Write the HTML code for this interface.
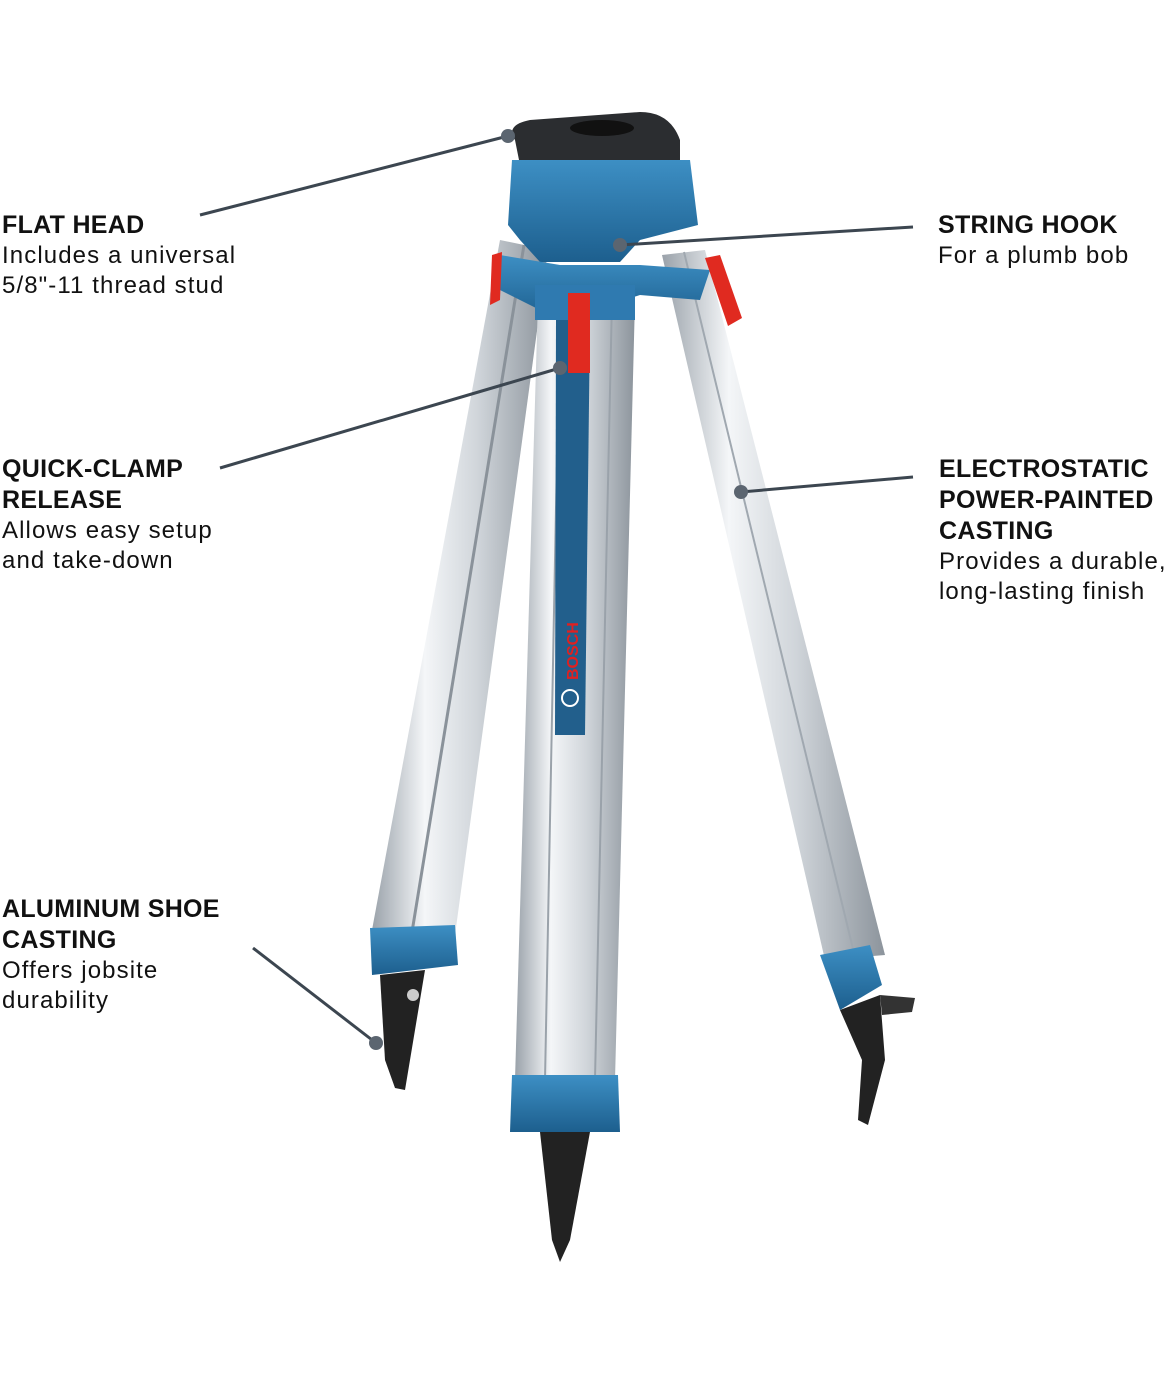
<!DOCTYPE html>
<html><head><meta charset="utf-8"><style>
html,body{margin:0;padding:0;background:#fff;}
body{width:1170px;height:1383px;position:relative;overflow:hidden;font-family:"Liberation Sans",sans-serif;color:#111;}
.t{position:absolute;font-size:24px;line-height:30px;letter-spacing:1.1px;}
.t b{font-weight:900;font-size:25px;letter-spacing:0.3px;}
svg{position:absolute;left:0;top:0;}
</style></head><body>
<svg width="1170" height="1383" viewBox="0 0 1170 1383">
<defs>
<linearGradient id="al" x1="0" x2="1" y1="0" y2="0">
<stop offset="0" stop-color="#9aa2aa"/><stop offset="0.3" stop-color="#f4f6f8"/><stop offset="0.6" stop-color="#d0d5da"/><stop offset="1" stop-color="#8c949c"/></linearGradient>
<linearGradient id="bl" x1="0" x2="0" y1="0" y2="1">
<stop offset="0" stop-color="#3d8fc4"/><stop offset="1" stop-color="#1d5f8e"/></linearGradient>
</defs>
<polygon points="500,240 548,250 455,935 372,930" fill="url(#al)"/>
<line x1="524" y1="245" x2="412" y2="932" stroke="#8a929a" stroke-width="3"/>
<polygon points="662,255 705,250 885,955 825,960" fill="url(#al)"/>
<line x1="684" y1="252" x2="855" y2="957" stroke="#a0a8b0" stroke-width="2"/>
<polygon points="538,300 635,300 615,1080 515,1080" fill="url(#al)"/>
<line x1="560" y1="300" x2="545" y2="1080" stroke="#9aa2aa" stroke-width="2"/>
<line x1="612" y1="300" x2="595" y2="1080" stroke="#9aa2aa" stroke-width="2"/>
<polygon points="556,320 590,320 585,735 555,735" fill="#225f8c"/>
<text x="0" y="0" transform="translate(578,680) rotate(-90)" font-family="Liberation Sans" font-weight="bold" font-size="16" fill="#e02020">BOSCH</text>
<circle cx="570" cy="698" r="8" fill="none" stroke="#fff" stroke-width="2"/>
<path d="M515,140 Q505,125 530,120 L640,112 Q670,112 680,140 L680,160 L520,165 Z" fill="#2b2d30"/>
<ellipse cx="602" cy="128" rx="32" ry="8" fill="#111"/>
<path d="M512,160 L690,160 L698,225 L640,240 L620,262 L540,262 L520,240 L508,225 Z" fill="url(#bl)"/>
<path d="M500,255 L560,265 L640,265 L710,270 L700,300 L640,295 L560,320 L520,300 L500,290 Z" fill="url(#bl)"/>
<rect x="535" y="285" width="100" height="35" fill="#2f7ab0"/>
<rect x="568" y="293" width="22" height="80" fill="#e02a20"/>
<polygon points="705,258 720,255 742,318 728,326" fill="#e02a20"/>
<polygon points="492,255 502,252 500,300 490,305" fill="#e02a20"/>
<polygon points="370,928 455,925 458,965 372,975" fill="url(#bl)"/>
<polygon points="380,975 425,970 405,1090 395,1088 385,1060" fill="#222"/>
<circle cx="413" cy="995" r="6" fill="#ccc"/>
<polygon points="820,955 870,945 882,985 840,1010" fill="url(#bl)"/>
<polygon points="840,1010 880,995 885,1060 868,1125 858,1120 862,1060" fill="#222"/>
<polygon points="880,995 915,998 912,1012 882,1015" fill="#333"/>
<polygon points="512,1075 618,1075 620,1132 510,1132" fill="url(#bl)"/>
<polygon points="540,1132 590,1132 570,1240 560,1262 552,1240" fill="#222"/>
<g stroke="#3c4650" stroke-width="3" fill="#5b6570">
<line x1="200" y1="215" x2="508" y2="136"/><circle cx="508" cy="136" r="7" stroke="none"/>
<line x1="913" y1="227" x2="620" y2="245"/><circle cx="620" cy="245" r="7" stroke="none"/>
<line x1="220" y1="468" x2="560" y2="368"/><circle cx="560" cy="368" r="7" stroke="none"/>
<line x1="913" y1="477" x2="741" y2="492"/><circle cx="741" cy="492" r="7" stroke="none"/>
<line x1="253" y1="948" x2="376" y2="1043"/><circle cx="376" cy="1043" r="7" stroke="none"/>
</g>
</svg>
<div class="t" style="left:2px;top:210px"><b>FLAT HEAD</b><br>Includes a universal<br>5/8"-11 thread stud</div>
<div class="t" style="left:938px;top:210px"><b>STRING HOOK</b><br>For a plumb bob</div>
<div class="t" style="left:2px;top:454px"><b>QUICK-CLAMP<br>RELEASE</b><br>Allows easy setup<br>and take-down</div>
<div class="t" style="left:939px;top:454px"><b>ELECTROSTATIC<br>POWER-PAINTED<br>CASTING</b><br>Provides a durable,<br>long-lasting finish</div>
<div class="t" style="left:2px;top:894px"><b>ALUMINUM SHOE<br>CASTING</b><br>Offers jobsite<br>durability</div>
</body></html>
